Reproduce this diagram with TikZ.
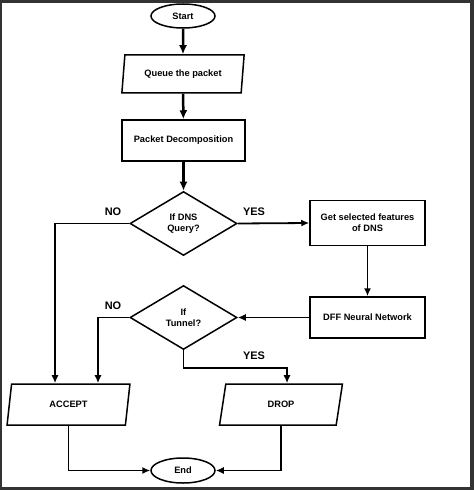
\documentclass[tikz,border=0pt]{standalone}
\usepackage{fontspec}
\setmainfont{Liberation Sans}
\usepackage{tikz}
\usetikzlibrary{shapes.geometric,arrows.meta}

\begin{document}
\begin{tikzpicture}[x=1bp,y=-1bp,
        every node/.style={font=\fontsize{9.3}{11}\selectfont\bfseries},
        terminal/.style={draw,ellipse,line width=1.5bp,minimum width=64bp,minimum height=24bp,inner sep=0pt},
        io/.style={draw,trapezium,trapezium left angle=77,trapezium right angle=103,
                   trapezium stretches=true,line width=1.5bp,minimum width=123bp,minimum height=41bp,inner sep=0pt},
        process/.style={draw,rectangle,line width=1.5bp,minimum width=115bp,minimum height=41bp,inner sep=0pt,align=center},
        decision/.style={draw,diamond,line width=1.5bp,minimum width=107bp,minimum height=64bp,inner sep=0pt,align=center},
        flow/.style={line width=1.8bp,-{Latex[length=8bp,width=7bp]}},
        mainflow/.style={line width=2.5bp,-{Latex[length=9bp,width=8bp]}},
        answer/.style={font=\fontsize{11}{13}\selectfont\bfseries}]
            \useasboundingbox (0,0) rectangle (474,490);
            \fill[black!80] (0,0) rectangle (474,490);
            \fill[white] (2,3) rectangle (470,487);
            % nodes
            \node[terminal] (start) at (183,16) {Start};
            \node[io,minimum height=38bp] (queue) at (183,74) {Queue the packet};
            \node[process,minimum width=123bp] (decomp) at (183.5,140.5) {Packet Decomposition};
            \node[decision] (dns) at (183.5,223.5) {If DNS\\Query?};
            \node[process,minimum height=45bp] (features) at (367.5,223) {Get selected features\\of DNS};
            \node[process] (dff) at (367.5,317.5) {DFF Neural Network};
            \node[decision] (tunnel) at (183.5,317.5) {If\\Tunnel?};
            \node[io] (accept) at (68.5,404.5) {ACCEPT};
            \node[io] (drop) at (281,404.5) {DROP};
            \node[terminal,minimum height=25bp] (end) at (183,470.5) {End};
            % connectors
            \draw[mainflow] (start) -- (queue);
            \draw[mainflow] (queue) -- (decomp);
            \draw[mainflow] (decomp) -- (dns);
            \draw[flow] (dns.west) -| ([xshift=-13.5bp]accept.north);
            \draw[flow] (dns.east) -- (features.west);
            \draw[flow] (features) -- (dff);
            \draw[flow] (dff.west) -- (tunnel.east);
            \draw[flow] (tunnel.west) -| ([xshift=29.5bp]accept.north);
            \draw[flow] (tunnel.south) -- ++(0,18) -| ([xshift=6bp]drop.north);
            \draw[flow] (accept.south) |- (end.west);
            \draw[flow] (drop.south) |- (end.east);
            % answers
            \node[answer] (dnsno) at (113,212) {NO};
            \node[answer] (dnsyes) at (254,212) {YES};
            \node[answer] (tunnelno) at (113,306) {NO};
            \node[answer] (tunnelyes) at (254,356) {YES};
\end{tikzpicture}
\end{document}
